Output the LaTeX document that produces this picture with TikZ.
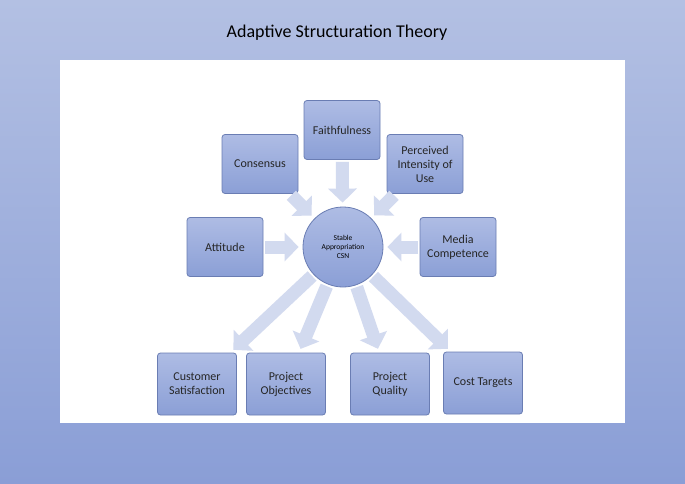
\documentclass[tikz,border=0pt]{standalone}
\usepackage{fontspec}
\setmainfont{Carlito}
\usetikzlibrary{arrows.meta}
\definecolor{bgtop}{HTML}{B3C0E3}
\definecolor{bgbot}{HTML}{8A9ED6}
\definecolor{boxtop}{HTML}{AEBCE4}
\definecolor{boxbot}{HTML}{8B9FD6}
\definecolor{boxline}{HTML}{6A7DB3}
\definecolor{arr}{HTML}{D2DAEF}
\begin{document}
\begin{tikzpicture}[x=1pt,y=-1pt,
  box/.style={draw=boxline,line width=0.8pt,rounded corners=3pt,top color=boxtop,bottom color=boxbot,minimum width=76pt,minimum height=59pt,align=center,font=\fontsize{12}{14}\selectfont,text=black!85},
  bbox/.style={box,minimum width=79pt,minimum height=62pt},
  fat/.style={draw=arr,line width=13pt,-{Triangle[width=28pt,length=14pt]},shorten <=2pt,shorten >=4pt}]
\shade[top color=bgtop,bottom color=bgbot] (0,0) rectangle (685,484);
\useasboundingbox (0,0) rectangle (685,484);
\fill[white] (60,60) rectangle (625,423);
\node[font=\fontsize{18}{20}\selectfont] (title) at (337,33) {Adaptive Structuration Theory};
\node[circle,draw=boxline,line width=0.8pt,top color=boxtop,bottom color=boxbot,minimum size=80pt,align=center,font=\fontsize{7.5}{9}\selectfont] (c) at (343,247) {Stable\\Appropriation\\CSN};
\node[box] (f) at (342,130) {Faithfulness};
\node[box] (co) at (260,164) {Consensus};
\node[box] (p) at (425,164) {Perceived\\Intensity of\\Use};
\node[box] (a) at (225,247) {Attitude};
\node[box] (m) at (458,247) {Media\\Competence};
\node[bbox] (cs) at (197,384) {Customer\\Satisfaction};
\node[bbox] (po) at (286,384) {Project\\Objectives};
\node[bbox] (pq) at (390,384) {Project\\Quality};
\node[bbox] (ct) at (483,383) {Cost Targets};
\begin{scope}[on background layer/.style={}]
\draw[fat] (f) -- (c);
\draw[fat] (co) -- (c);
\draw[fat] (p) -- (c);
\draw[fat] (a) -- (c);
\draw[fat] (m) -- (c);
\draw[fat] (c) -- (cs);
\draw[fat] (c) -- (po);
\draw[fat] (c) -- (pq);
\draw[fat] (c) -- (ct);
\end{scope}
\end{tikzpicture}
\end{document}
